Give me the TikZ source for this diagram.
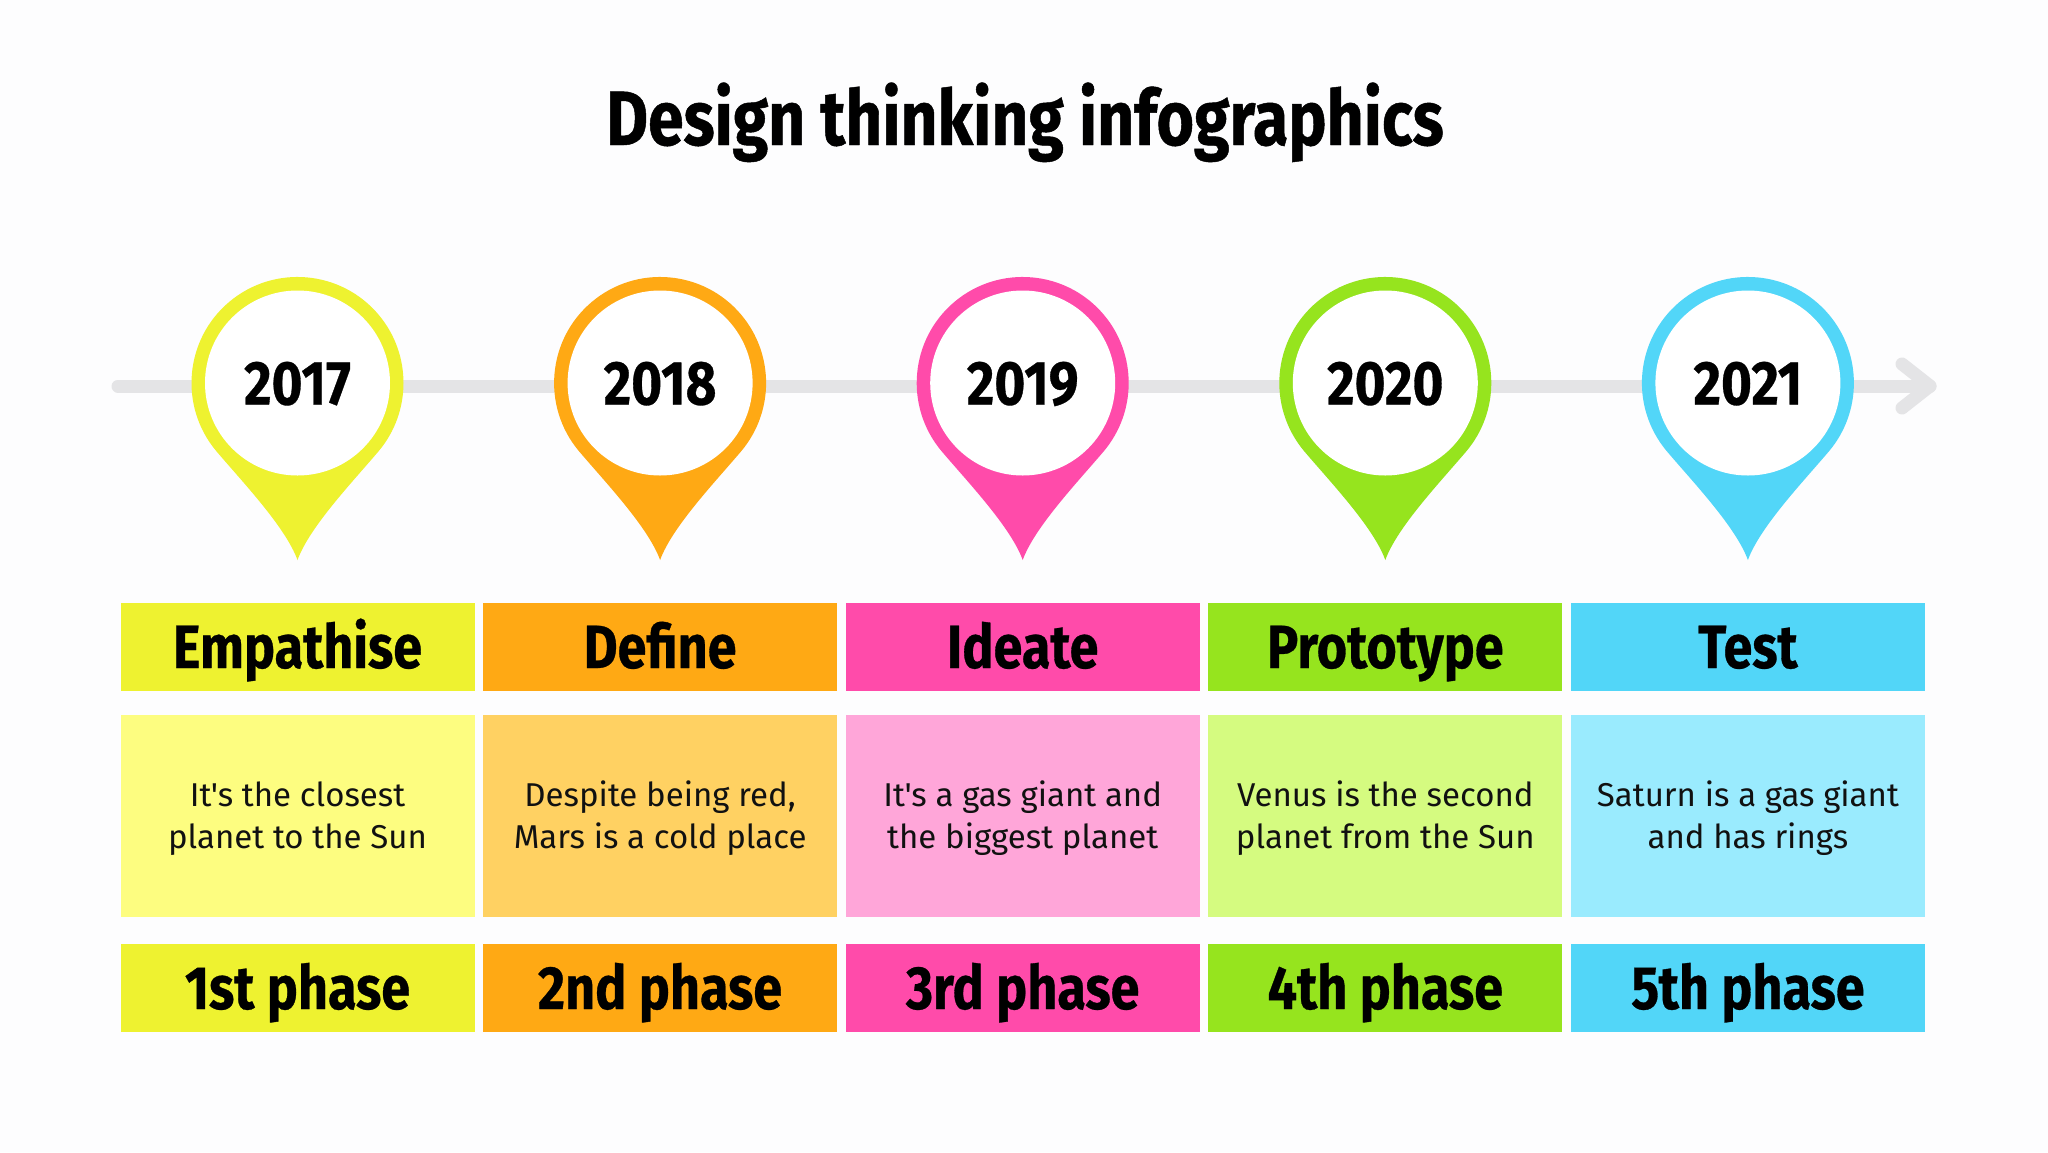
\documentclass[tikz,border=0pt]{standalone}
\usepackage{fontspec}
\setmainfont{Fira Sans}
\newfontfamily\boldcond[FakeStretch=0.855,FakeBold=0.5]{Fira Sans Bold}
\newfontfamily\titlecond[FakeStretch=0.835,FakeBold=0.6]{Fira Sans Bold}
\newfontfamily\bodycond{Fira Sans}
\definecolor{bgc}{HTML}{FDFDFE}
\definecolor{linec}{HTML}{E4E4E6}
\definecolor{yel}{HTML}{EEF230}
\definecolor{yelL}{HTML}{FDFD80}
\definecolor{ora}{HTML}{FFA914}
\definecolor{oraL}{HTML}{FFD162}
\definecolor{pnk}{HTML}{FF4BAA}
\definecolor{pnkL}{HTML}{FFA6D9}
\definecolor{grn}{HTML}{96E41E}
\definecolor{grnL}{HTML}{D5FB80}
\definecolor{cya}{HTML}{52D6F8}
\definecolor{cyaL}{HTML}{9AEBFE}
\definecolor{txt}{HTML}{111111}
\newcommand\topstrut{\rule{0pt}{32.7pt}}
\newcommand\botstrut{\rule[-10pt]{0pt}{10pt}}
\newcommand\stage[8]{%
  \fill[#3] (#2,560) .. controls (#2-12,527) and (#2-55,482) .. (#2-81.2,451.1)
    arc[start angle=140,end angle=400,radius=106]
    .. controls (#2+55,482) and (#2+12,527) .. (#2,560) -- cycle;
  \node[yearnode] (y#1) at (#2,383) {#5};
  \node[hdrbox, fill=#3] (h#1) at (#2,647) {#6};
  \node[bodybox, fill=#4] (b#1) at (#2,816) {\topstrut #7\botstrut};
  \node[hdrbox, fill=#3] (p#1) at (#2,988) {#8};
}
\begin{document}
\begin{tikzpicture}[x=1pt,y=-1pt,
  tline/.style={draw=linec, line width=13pt, line cap=round, line join=round},
  yearnode/.style={circle, fill=white, minimum size=185pt, inner sep=0pt,
    text height=43pt, text depth=0pt, text=black,
    font=\boldcond\fontsize{62}{62}\selectfont},
  hdrbox/.style={rectangle, minimum width=354pt, minimum height=88pt, inner sep=0pt,
    outer sep=0pt, text height=42pt, text depth=0pt, text=black,
    font=\boldcond\fontsize{61}{61}\selectfont},
  bodybox/.style={rectangle, minimum width=354pt, minimum height=202pt, inner sep=0pt,
    outer sep=0pt, align=center, text=txt,
    font=\bodycond\fontsize{33}{41.6}\selectfont},
  titlestyle/.style={anchor=base, text=black, font=\titlecond\fontsize{77}{80}\selectfont}
]
\fill[bgc] (0,0) rectangle (2048,1152);
\useasboundingbox (0,0) rectangle (2048,1152);

\node[titlestyle] (title) at (1025,145) {Design thinking infographics};

\coordinate (ls) at (118,386);
\coordinate (le) at (1930,386);
\draw[tline] (ls) -- (le);
\draw[tline] (le) ++(-28,-22) -- (le) -- ++(-28,22);

\stage{1}{297.5}{yel}{yelL}{2017}{Empathise}{It's the closest\\planet to the Sun}{1st phase}
\stage{2}{660.1}{ora}{oraL}{2018}{Define}{Despite being red,\\Mars is a cold place}{2nd phase}
\stage{3}{1022.7}{pnk}{pnkL}{2019}{Ideate}{It's a gas giant and\\the biggest planet}{3rd phase}
\stage{4}{1385.3}{grn}{grnL}{2020}{Prototype}{Venus is the second\\planet from the Sun}{4th phase}
\stage{5}{1747.9}{cya}{cyaL}{2021}{Test}{Saturn is a gas giant\\and has rings}{5th phase}
\end{tikzpicture}
\end{document}
